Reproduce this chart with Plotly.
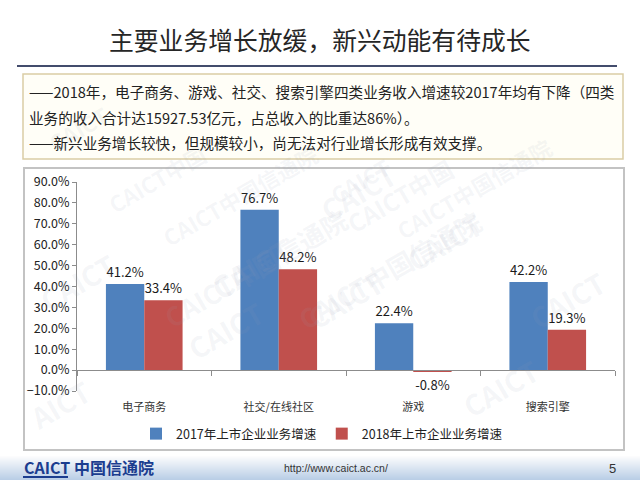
import plotly.graph_objects as go

W, H = 640, 480
FONT = "Noto Sans CJK SC"

categories = ["电子商务", "社交/在线社区", "游戏", "搜索引擎"]
series_names = ["2017年上市企业业务增速", "2018年上市企业业务增速"]
growth_2017 = [41.2, 76.7, 22.4, 42.2]
growth_2018 = [33.4, 48.2, -0.8, 19.3]
colors = ["#4F81BD", "#C0504D"]

title_text = "主要业务增长放缓，新兴动能有待成长"
box_lines = [
    "——2018年，电子商务、游戏、社交、搜索引擎四类业务收入增速较2017年均有下降（四类",
    "业务的收入合计达15927.53亿元，占总收入的比重达86%）。",
    "——新兴业务增长较快，但规模较小，尚无法对行业增长形成有效支撑。",
]
url_text = "http://www.caict.ac.cn/"
page_no = "5"

y_min, y_max = -10, 90


def px(x):
    return x / W


def py(y):
    return 1 - y / H


x_dom = [px(77), px(615)]
y_dom = [py(391), py(182)]
zero_pos = y_dom[0] + (0 - y_min) / (y_max - y_min) * (y_dom[1] - y_dom[0])

fig = go.Figure()
for name, vals, col in zip(series_names, [growth_2017, growth_2018], colors):
    fig.add_trace(go.Bar(
        x=categories, y=vals, name=name, marker_color=col, marker_line_width=0,
        texttemplate="%{y:.1f}%", textposition="outside",
        textfont=dict(family=FONT, size=13, color="#1a1a1a"),
        cliponaxis=False,
    ))
# helper trace so the label axis knows the categories
fig.add_trace(go.Scatter(x=categories, y=[0] * len(categories), xaxis="x2", mode="markers",
                         marker=dict(opacity=0), showlegend=False, hoverinfo="skip"))

shapes = []
# footer gradient
top_c = (255, 255, 255)
bot_c = (186, 206, 230)
n = 25
for i in range(n):
    t = i / (n - 1)
    c = tuple(int(top_c[k] + (bot_c[k] - top_c[k]) * t) for k in range(3))
    shapes.append(dict(type="rect", xref="paper", yref="paper", x0=0, x1=1,
                       y0=py(455 + i + 1), y1=py(455 + i), line_width=0,
                       fillcolor="rgb(%d,%d,%d)" % c, layer="below"))
# title rule
shapes.append(dict(type="line", xref="paper", yref="paper", x0=px(17), x1=px(617),
                   y0=py(66), y1=py(66), line=dict(color="#434C6C", width=2)))
# text box
shapes.append(dict(type="rect", xref="paper", yref="paper", x0=px(23), x1=px(623),
                   y0=py(159), y1=py(74), line=dict(color="#DACDA5", width=1.5),
                   fillcolor="#FFFEF7", layer="below"))
# chart box
shapes.append(dict(type="rect", xref="paper", yref="paper", x0=px(24), x1=px(624),
                   y0=py(450), y1=py(168), line=dict(color="#C3C3C3", width=2),
                   fillcolor="white", layer="below"))
# logo underline
shapes.append(dict(type="line", xref="paper", yref="paper", x0=px(23), x1=px(68),
                   y0=py(477), y1=py(477), line=dict(color="#1B3D8F", width=2)))

annotations = []
# watermarks
wm_color = "rgba(150,160,182,0.10)"
wms = [
    (100, 178, "CAICT中国", 22), (200, 268, "CAICT", 30), (155, 338, "CAICT中国信通院", 26),
    (30, 322, "CAICT", 28), (178, 370, "CAICT", 28), (20, 440, "AICT", 28),
    (358, 192, "CAICT", 28), (462, 195, "CAICT中国", 24), (492, 242, "CAICT", 28),
    (345, 300, "CAICT", 28), (490, 340, "CAICT中国信通院", 26), (615, 300, "CAICT", 28),
    (548, 428, "CAICT", 28), (240, 135, "CAICT中国信通院", 22), (560, 128, "CAICT中国信通院", 22),
    (40, 95, "CAICT", 22), (360, 180, "CAICT", 22),
]
for (x, y, t, s) in wms:
    annotations.append(dict(x=px(x), y=py(y), xref="paper", yref="paper", text="<b>%s</b>" % t,
                            showarrow=False, textangle=-30,
                            font=dict(family=FONT, size=s, color=wm_color)))

annotations.append(dict(x=px(320), y=py(39), xref="paper", yref="paper", text=title_text,
                        showarrow=False, xanchor="center", yanchor="middle",
                        font=dict(family=FONT, size=24.8, color="#262626")))
for i, line in enumerate(box_lines):
    annotations.append(dict(x=px(27), y=py(91 + 26 * i), xref="paper", yref="paper", text=line,
                            showarrow=False, xanchor="left", yanchor="middle",
                            font=dict(family=FONT, size=14.6, color="#222222")))
annotations.append(dict(x=px(22), y=py(467), xref="paper", yref="paper",
                        text="<b>CAICT</b> <b>中国信通院</b>", showarrow=False,
                        xanchor="left", yanchor="middle",
                        font=dict(family=FONT, size=16, color="#1B3D8F")))
annotations.append(dict(x=px(282), y=py(468), xref="paper", yref="paper", text=url_text,
                        showarrow=False, xanchor="left", yanchor="middle",
                        font=dict(family="Liberation Sans", size=10.5, color="#333333")))
annotations.append(dict(x=px(612), y=py(468), xref="paper", yref="paper", text=page_no,
                        showarrow=False, xanchor="center", yanchor="middle",
                        font=dict(family="Liberation Sans", size=13, color="#333333")))

fig.update_layout(
    width=W, height=H, margin=dict(l=0, r=0, t=0, b=0),
    paper_bgcolor="white", plot_bgcolor="rgba(0,0,0,0)",
    barmode="group", bargap=0.43, bargroupgap=0,
    shapes=shapes, annotations=annotations,
    font=dict(family=FONT, color="#222222"),
    xaxis=dict(domain=x_dom, anchor="free", position=zero_pos, type="category",
               showline=True, linecolor="#8C8C8C", linewidth=1, ticks="outside",
               tickson="boundaries", ticklen=5, tickcolor="#8C8C8C",
               showticklabels=False, showgrid=False, zeroline=False, automargin=False),
    xaxis2=dict(domain=x_dom, overlaying="x", matches="x", anchor="y", side="bottom",
                type="category", showline=False, ticks="", showgrid=False, zeroline=False,
                tickfont=dict(family=FONT, size=11, color="#333333"), automargin=False,
                ticklabelstandoff=8),
    yaxis=dict(domain=y_dom, range=[y_min, y_max], dtick=10, tick0=0,
               tickformat=".1f", ticksuffix="%", showline=True, linecolor="#8C8C8C",
               ticks="outside", ticklen=4, tickcolor="#8C8C8C", showgrid=False,
               zeroline=False, tickfont=dict(family=FONT, size=12.5, color="#222222"),
               automargin=False),
    legend=dict(orientation="h", x=px(322), y=py(434), xanchor="center", yanchor="middle",
                font=dict(family=FONT, size=12.5, color="#222222"), bgcolor="rgba(0,0,0,0)",
                itemwidth=30, traceorder="normal"),
    showlegend=True,
)

fig.write_html("out.html")
